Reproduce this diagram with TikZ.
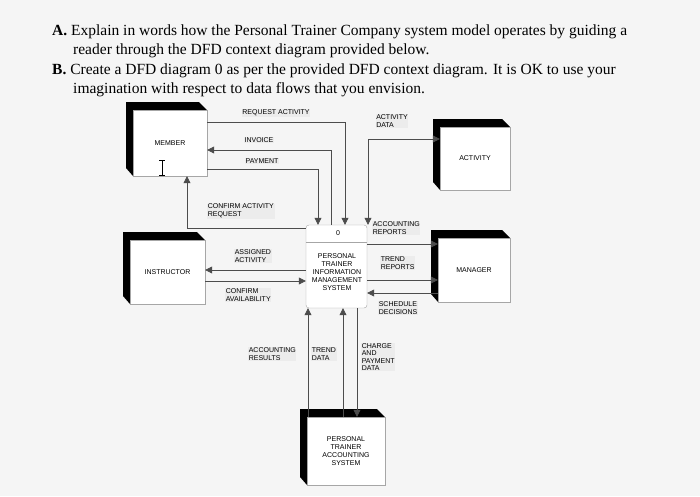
\documentclass[tikz,border=0pt]{standalone}
\usepackage{fontspec}
\setmainfont{Liberation Serif}
\newfontfamily\dfdsans{Liberation Sans}
\usetikzlibrary{arrows.meta,calc}
\tikzset{
  ext/.style={draw=gray!70, fill=white, inner sep=0pt, font=\dfdsans\fontsize{7}{8}\selectfont, align=center},
  proc/.style={draw=gray!70, fill=white, rounded corners=3pt, inner sep=0pt},
  flow/.style={draw=gray!60!black, line width=0.6pt, -{Triangle[length=7pt,width=7pt]}},
  lbl/.style={fill=gray!15, inner sep=0.6pt, font=\dfdsans\fontsize{7}{7.6}\selectfont, align=left},
  qtext/.style={anchor=west, inner sep=0pt, font=\fontsize{15.5}{17}\selectfont}
}
% external entity: name, x0, y0, x1, y1, text
\newcommand\extent[6]{%
  \fill[black] (#2-7,#3-8) -- (#4-8,#3-8) -- (#4,#3) -- (#2,#5) -- (#2-7,#5-8) -- cycle;
  \node[ext, minimum width={(#4-#2)*1pt}, minimum height={(#5-#3)*1pt}] (#1) at ({(#2+#4)/2},{(#3+#5)/2}) {#6};}
\begin{document}
\begin{tikzpicture}[x=1pt, y=-1pt]
\useasboundingbox[fill=gray!8] (0,0) rectangle (700,496);
% question text
\node[qtext] (qa) at (52,32) {\textbf{A.} Explain in words how the Personal Trainer Company system model operates by guiding a};
\node[qtext] (qa2) at (73,51) {reader through the DFD context diagram provided below.};
\node[qtext] (qb) at (52,71) {\textbf{B.} Create a DFD diagram 0 as per the provided DFD context diagram. It is OK to use your};
\node[qtext] (qb2) at (73,90) {imagination with respect to data flows that you envision.};
% entities
\extent{mem}{133}{110}{207}{176}{MEMBER}
\extent{act}{440}{127}{510}{190}{ACTIVITY}
\extent{ins}{130}{240}{205}{304}{INSTRUCTOR}
\extent{man}{438}{238}{510}{302}{MANAGER}
\extent{acc}{307}{417}{385}{485}{PERSONAL\\TRAINER\\ACCOUNTING\\SYSTEM}
% I-beam cursor
\draw[line width=0.7pt] (162,160) -- (162,175) (159,160) -- (165,160) (159,175) -- (165,175);
% process
\node[proc, minimum width=61pt, minimum height=83pt] (p) at (336.5,266.5) {};
\draw[gray!70] (p.west |- 0,242) -- (p.east |- 0,242);
\node[font=\dfdsans\fontsize{7}{8}\selectfont] (p0) at (338,233) {0};
\node[font=\dfdsans\fontsize{7}{8}\selectfont, align=center] (pt) at (337,272) {PERSONAL\\TRAINER\\INFORMATION\\MANAGEMENT\\SYSTEM};
% flows
\draw[flow] (mem.east |- 0,122) -| (p.north -| 345,0);
\draw[flow] (p.north -| 331,0) |- (mem.east |- 0,150);
\draw[flow] (mem.east |- 0,169) -| (p.north -| 318,0);
\draw[flow] (p.west |- 0,228) -| (mem.south -| 187,0);
\draw[flow, {Triangle[length=7pt,width=7pt]}-{Triangle[length=7pt,width=7pt]}] (p.north -| 368,0) |- (act.west |- 0,139);
\draw[flow] (p.east |- 0,244) -- (man.west |- 0,244);
\draw[flow] (p.east |- 0,280) -- (man.west |- 0,280);
\draw[flow] (man.west |- 0,293) -- (p.east |- 0,293);
\draw[flow] (p.west |- 0,270) -- (ins.east |- 0,270);
\draw[flow] (ins.east |- 0,281) -- (p.west |- 0,281);
\draw[flow] (acc.north -| 308,0) -- (p.south -| 308,0);
\draw[flow] (acc.north -| 343,0) -- (p.south -| 343,0);
\draw[flow] (p.south -| 357,0) -- (acc.north -| 357,0);
% labels
\node[lbl] (l1) at (276,113) {REQUEST ACTIVITY};
\node[lbl] (l2) at (259,140) {INVOICE};
\node[lbl] (l3) at (262,161) {PAYMENT};
\node[lbl, anchor=west] (l4) at (207,211) {CONFIRM ACTIVITY\\REQUEST};
\node[lbl] (l5) at (392,121) {ACTIVITY\\DATA};
\node[lbl, anchor=west] (l6) at (372,228) {ACCOUNTING\\REPORTS};
\node[lbl, anchor=west] (l7) at (380,263) {TREND\\REPORTS};
\node[lbl, anchor=west] (l8) at (378,308) {SCHEDULE\\DECISIONS};
\node[lbl, anchor=west] (l9) at (234,256) {ASSIGNED\\ACTIVITY};
\node[lbl, anchor=west] (l10) at (225,295) {CONFIRM\\AVAILABILITY};
\node[lbl, anchor=west] (l11) at (248,354) {ACCOUNTING\\RESULTS};
\node[lbl, anchor=west] (l12) at (311,354) {TREND\\DATA};
\node[lbl, anchor=west] (l13) at (361,357) {CHARGE\\AND\\PAYMENT\\DATA};
\end{tikzpicture}
\end{document}
